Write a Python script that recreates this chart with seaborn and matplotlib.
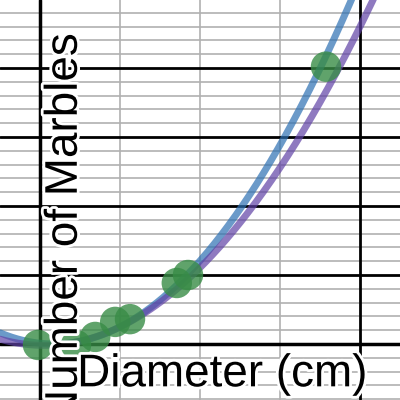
import numpy as np
import pandas as pd
import seaborn as sns
import matplotlib
matplotlib.use("Agg")
import matplotlib.pyplot as plt
import matplotlib.patheffects as pe

diameter = [-0.025, 0.45, 0.69, 0.94, 1.125, 1.71, 1.85, 3.575]
marbles = [-0.07, -0.07, 0.51, 1.6, 1.8, 4.42, 5.0, 20.1]
# quadratic models y = a (x - h)^2 + k
blue_model = (1.8, 0.17, 0.0)
purple_model = (1.48, 0.05, -0.1)

sns.set_style("white")
plt.rcParams['font.family'] = ['Liberation Sans', 'DejaVu Sans']
fig = plt.figure(figsize=(4, 4), dpi=100)
ax = fig.add_axes([0, 0, 1, 1])
xmin, xmax, ymin, ymax = -0.5, 4.5, -4.06, 24.93
ax.set_xlim(xmin, xmax); ax.set_ylim(ymin, ymax)

for x in np.arange(0, 5):
    if x in (0, 4):
        ax.axvline(x, color="black", lw=2 if x == 4 else 2.5, zorder=1)
    else:
        ax.axvline(x, color="#b0b0b0", lw=1.2, zorder=0)
for y in np.arange(-4, 25):
    if y % 5 == 0:
        ax.axhline(y, color="black", lw=2.5 if y == 0 else 2, zorder=1)
    else:
        ax.axhline(y, color="#b0b0b0", lw=1.2, zorder=0)

xs = np.linspace(xmin, xmax, 400)
for (a, h, k), c in [(blue_model, "#2d70b3"), (purple_model, "#6042a6")]:
    df = pd.DataFrame({"x": xs, "y": a * (xs - h) ** 2 + k})
    sns.lineplot(data=df, x="x", y="y", ax=ax, color=c, lw=5, alpha=0.7, zorder=2)

pts = pd.DataFrame({"d": diameter, "n": marbles})
sns.scatterplot(data=pts, x="d", y="n", ax=ax, s=480, color="#388c46", alpha=0.8,
                edgecolor="none", zorder=3)

halo = [pe.withStroke(linewidth=4, foreground="white")]
ax.text(2.28, -2.2, "Diameter (cm)", fontsize=33, ha="center", va="center",
        color="black", path_effects=halo, zorder=5)
ax.text(0.31, 8.4, "Number of Marbles", fontsize=33, ha="center", va="center",
        color="black", rotation=90, path_effects=halo, zorder=5)

ax.set_xticks([]); ax.set_yticks([])
ax.set_xlabel(""); ax.set_ylabel("")
for s in ax.spines.values():
    s.set_visible(False)
fig.savefig("out.png", dpi=100)
